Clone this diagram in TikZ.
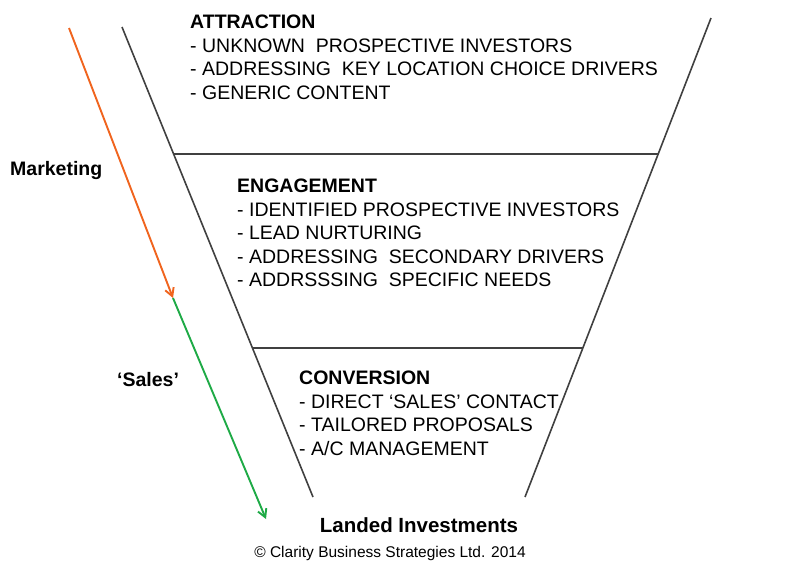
\documentclass[tikz,border=0pt]{standalone}
\usepackage{fontspec}
\setmainfont{Liberation Sans}
\usetikzlibrary{arrows.meta}
\begin{document}
\begin{tikzpicture}[x=1pt,y=-1pt,
  fl/.style={line width=1.6pt,draw=black!75},
  txt/.style={anchor=north west,align=left,font=\fontsize{19.5}{23.5}\selectfont,inner sep=0pt},
  lbl/.style={font=\bfseries\fontsize{19.5}{22}\selectfont,inner sep=0pt}]
\useasboundingbox (0,0) rectangle (800,574);
\coordinate (l1) at (122,27); \coordinate (l2) at (313,497);
\coordinate (r1) at (711,18); \coordinate (r2) at (525,497);
\draw[fl] (l1) -- (l2); \draw[fl] (r1) -- (r2);
\coordinate (a1) at (173.6,154); \coordinate (a2) at (658.5,154);
\coordinate (b1) at (252,348); \coordinate (b2) at (583,348);
\draw[fl,line width=1.3pt] (a1) -- (a2); \draw[fl,line width=1.3pt] (b1) -- (b2);
\node[txt] (t1) at (190,15) {\textbf{ATTRACTION}\\- UNKNOWN\ \ PROSPECTIVE INVESTORS\\- ADDRESSING\ \ KEY LOCATION CHOICE DRIVERS\\- GENERIC CONTENT};
\node[txt] (t2) at (237,179) {\textbf{ENGAGEMENT}\\- IDENTIFIED PROSPECTIVE INVESTORS\\- LEAD NURTURING\\- ADDRESSING\ \ SECONDARY DRIVERS\\- ADDRSSSING\ \ SPECIFIC NEEDS};
\node[txt] (t3) at (299,371) {\textbf{CONVERSION}\\- DIRECT `SALES' CONTACT\\- TAILORED PROPOSALS\\- A/C MANAGEMENT};
\coordinate (o1) at (69,28); \coordinate (m) at (173,298); \coordinate (g2) at (266,519);
\draw[-{Straight Barb[length=8pt,width=9pt]},line width=1.9pt,draw={rgb,255:red,240;green,100;blue,30}] (o1) -- (m);
\draw[-{Straight Barb[length=8pt,width=9pt]},line width=1.9pt,draw={rgb,255:red,30;green,170;blue,70}] (m) -- (g2);
\node[lbl,anchor=west] (mk) at (10,170) {Marketing};
\node[lbl,anchor=west] (sl) at (117,380) {`Sales'};
\node[lbl,font=\bfseries\fontsize{20.5}{22}\selectfont] (li) at (419,525) {Landed Investments};
\node[inner sep=0pt,font=\fontsize{15.5}{17}\selectfont] (cp) at (390,553) {© Clarity Business Strategies Ltd. 2014};
\end{tikzpicture}
\end{document}
